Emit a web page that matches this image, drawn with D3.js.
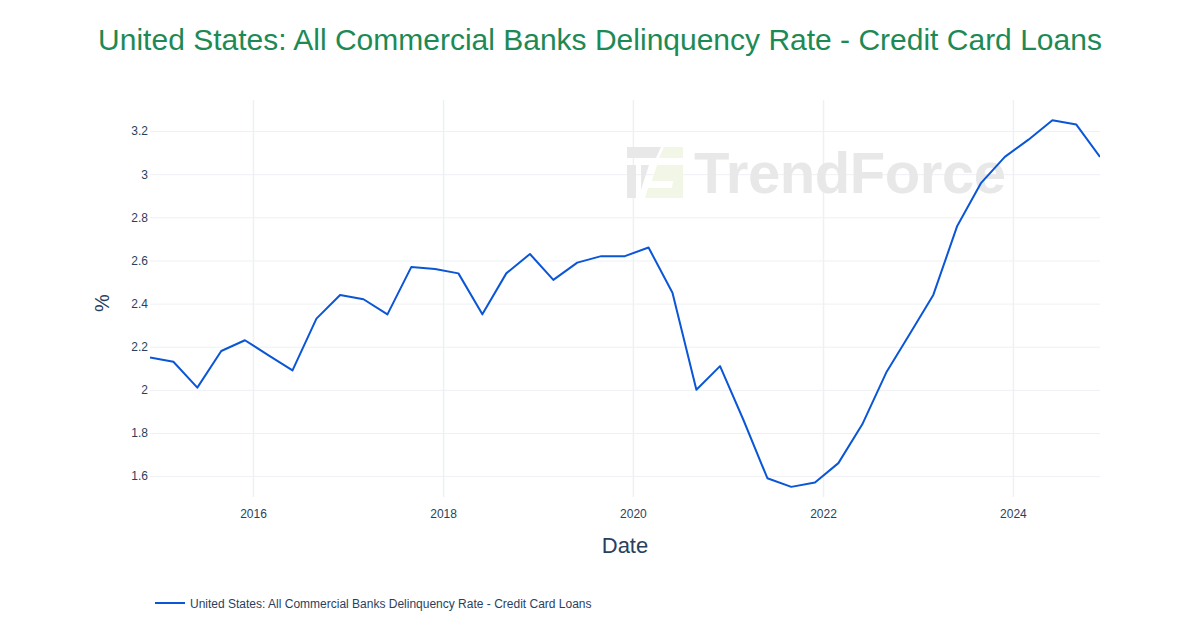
<!DOCTYPE html>
<html>
<head>
<meta charset="utf-8">
<script src="https://cdn.jsdelivr.net/npm/d3@7"></script>
<style>
  html, body { margin: 0; padding: 0; background: #fff; }
  svg { display: block; font-family: "Liberation Sans", Arial, sans-serif; }
</style>
</head>
<body>
<svg id="chart" width="1200" height="630"></svg>
<script>
const dates = [
  "2014-12-01","2015-03-01","2015-06-01","2015-09-01","2015-12-01",
  "2016-03-01","2016-06-01","2016-09-01","2016-12-01",
  "2017-03-01","2017-06-01","2017-09-01","2017-12-01",
  "2018-03-01","2018-06-01","2018-09-01","2018-12-01",
  "2019-03-01","2019-06-01","2019-09-01","2019-12-01",
  "2020-03-01","2020-06-01","2020-09-01","2020-12-01",
  "2021-03-01","2021-06-01","2021-09-01","2021-12-01",
  "2022-03-01","2022-06-01","2022-09-01","2022-12-01",
  "2023-03-01","2023-06-01","2023-09-01","2023-12-01",
  "2024-03-01","2024-06-01","2024-09-01","2024-12-01"
];
const values = [
  2.15, 2.13, 2.01, 2.18, 2.23,
  2.16, 2.09, 2.33, 2.44,
  2.42, 2.35, 2.57, 2.56,
  2.54, 2.35, 2.54, 2.63,
  2.51, 2.59, 2.62, 2.62,
  2.66, 2.45, 2.00, 2.11,
  1.86, 1.59, 1.55, 1.57,
  1.66, 1.84, 2.08, 2.26,
  2.44, 2.76, 2.96, 3.08,
  3.16, 3.25, 3.23, 3.08
];
const yTicks = [1.6, 1.8, 2, 2.2, 2.4, 2.6, 2.8, 3, 3.2];
const xTickYears = [2016, 2018, 2020, 2022, 2024];
const seriesName = "United States: All Commercial Banks Delinquency Rate - Credit Card Loans";
const titleText = "United States: All Commercial Banks Delinquency Rate - Credit Card Loans";

const svg = d3.select("#chart");
const W = 1200, H = 630;
const m = { left: 150, right: 100, top: 100, bottom: 133 };
const pw = W - m.left - m.right, ph = H - m.top - m.bottom;

const parse = d3.timeParse("%Y-%m-%d");
const data = dates.map((d, i) => ({ date: parse(d), value: values[i] }));

const x = d3.scaleTime()
  .domain(d3.extent(data, d => d.date))
  .range([m.left, m.left + pw]);
const y = d3.scaleLinear()
  .domain([1.503, 3.344])
  .range([m.top + ph, m.top]);

const gridColor = "#eef0f3";
const tickColor = "#2a3f5f";

// Title
svg.append("text")
  .attr("x", 600).attr("y", 50)
  .attr("text-anchor", "middle")
  .attr("font-size", 30)
  .attr("fill", "#1d8a55")
  .text(titleText);

// Grid
const xAxis = d3.axisBottom(x)
  .tickValues(xTickYears.map(yv => new Date(yv, 0, 1)))
  .tickFormat(d3.timeFormat("%Y"))
  .tickSize(-ph).tickPadding(12);
const gx = svg.append("g")
  .attr("transform", `translate(0,${m.top + ph})`)
  .call(xAxis);
gx.select(".domain").remove();
gx.selectAll("line").attr("stroke", gridColor).attr("stroke-width", 1.5);
gx.selectAll("text").attr("fill", tickColor).attr("font-size", 12);

const yAxis = d3.axisLeft(y)
  .tickValues(yTicks)
  .tickFormat(d3.format("~g"))
  .tickSize(-pw).tickPadding(0);
const gy = svg.append("g")
  .attr("transform", `translate(${m.left},0)`)
  .call(yAxis);
gy.select(".domain").remove();
gy.selectAll("line").attr("stroke", gridColor).attr("stroke-width", 1);
gy.selectAll("text").attr("fill", tickColor).attr("font-size", 12).attr("x", -2);

// Watermark
const wm = svg.append("g").attr("opacity", 1);
wm.append("path").attr("d", "M627,147 L661,147 L656,158 L627,158 Z").attr("fill", "#e8e8e8");
wm.append("path").attr("d", "M627,165 L636,165 L636,198 L627,198 Z").attr("fill", "#e8e8e8");
wm.append("path").attr("d", "M641,165 L649,165 L641,190 Z").attr("fill", "#e8e8e8");
wm.append("path").attr("d", "M664,147 L683,147 L683,158 L659,158 Z").attr("fill", "#f1f6e6");
wm.append("path").attr("d", "M657,165 L683,165 L683,198 L645,198 L648,188 L672,188 L673,181 L652,181 Z").attr("fill", "#f1f6e6");
wm.append("text")
  .attr("x", 694).attr("y", 193)
  .attr("font-size", 58).attr("font-weight", "bold")
  .attr("fill", "#e8e8e8")
  .attr("textLength", 312)
  .text("TrendForce");

// Line
const line = d3.line().x(d => x(d.date)).y(d => y(d.value));
svg.append("defs").append("clipPath").attr("id", "clip")
  .append("rect").attr("x", m.left).attr("y", m.top).attr("width", pw).attr("height", ph);
svg.append("path")
  .datum(data)
  .attr("clip-path", "url(#clip)")
  .attr("fill", "none")
  .attr("stroke", "#0a56d6")
  .attr("stroke-width", 2)
  .attr("stroke-linejoin", "round")
  .attr("d", line);

// Axis titles
svg.append("text")
  .attr("x", 625).attr("y", 553)
  .attr("text-anchor", "middle")
  .attr("font-size", 22)
  .attr("fill", tickColor)
  .text("Date");
svg.append("text")
  .attr("transform", "translate(109,303) rotate(-90)")
  .attr("text-anchor", "middle")
  .attr("font-size", 20)
  .attr("fill", tickColor)
  .text("%");

// Legend
svg.append("line")
  .attr("x1", 155).attr("x2", 185).attr("y1", 603).attr("y2", 603)
  .attr("stroke", "#0a56d6").attr("stroke-width", 2);
svg.append("text")
  .attr("x", 190).attr("y", 607.5)
  .attr("font-size", 12)
  .attr("fill", tickColor)
  .text(seriesName);
</script>
</body>
</html>
